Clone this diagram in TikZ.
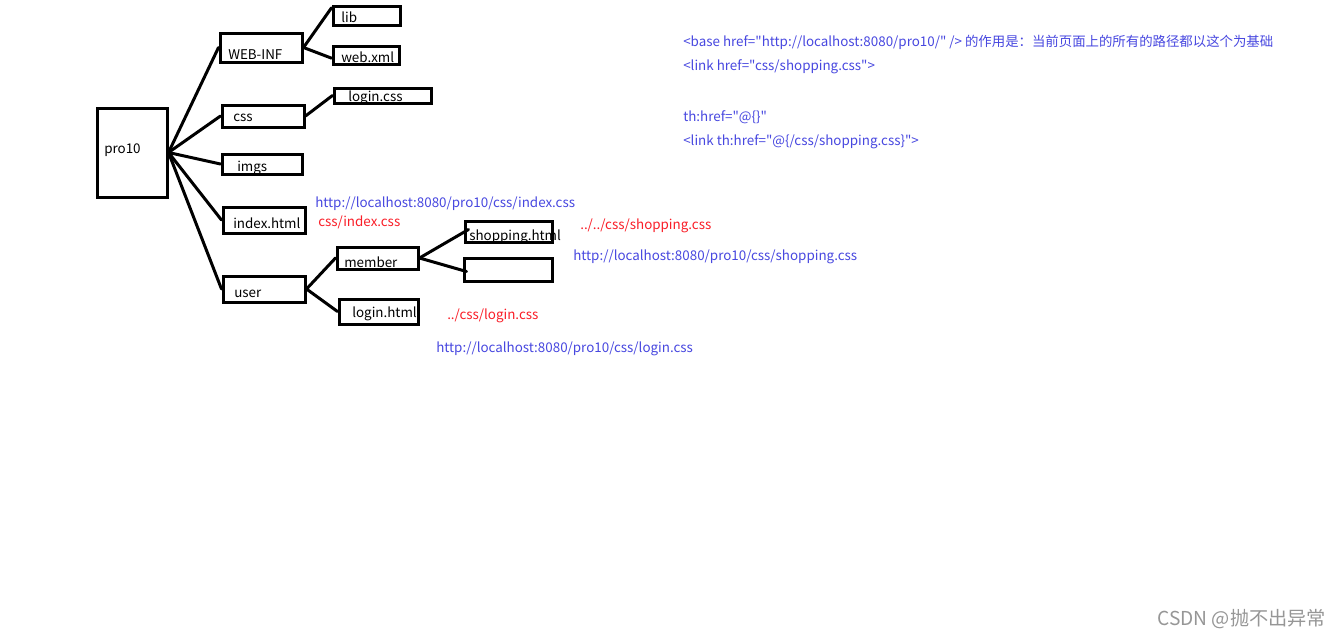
\documentclass[tikz,border=0pt]{standalone}
\usepackage{fontspec}
\newfontfamily\myfont{Noto Sans CJK SC}
\usetikzlibrary{calc}
\definecolor{urlblue}{RGB}{72,72,224}
\definecolor{relred}{RGB}{250,30,40}
\definecolor{wmgray}{RGB}{150,150,150}
\tikzset{
  box/.style={draw=black, line width=2.25pt, inner sep=0pt, fill=none},
  lbl/.style={anchor=west, inner sep=0pt, font=\myfont\fontsize{10.05pt}{11pt}\selectfont, text=black},
  blu/.style={lbl, text=urlblue},
  rd/.style={lbl, text=relred},
  conn/.style={draw=black, line width=2.25pt, line cap=round},
}
\newcommand\mybox[5]{%
  \node[box, minimum width={(#4-#2)*0.75pt}, minimum height={(#5-#3)*0.75pt}] (#1) at ({(#2+#4)/2},{(#3+#5)/2}) {};}
\begin{document}
\begin{tikzpicture}[x=0.75pt,y=-0.75pt]
\fill[white] (0,0) rectangle (1341,637);
\useasboundingbox (0,0) rectangle (1341,637);
% boxes
\mybox{pro10}{97}{108}{167}{197}
\mybox{webinf}{220}{33}{302}{62}
\mybox{lib}{333}{6}{400}{25}
\mybox{webxml}{333}{46}{399}{64}
\mybox{css}{222}{105}{304}{127}
\mybox{logincss}{334}{88}{431}{103}
\mybox{imgs}{222}{154}{302}{174}
\mybox{index}{223}{207}{305}{233}
\mybox{user}{223}{276}{305}{302}
\mybox{member}{337}{247}{418}{269}
\mybox{shop}{465}{221}{552}{242}
\mybox{empty}{464}{258}{552}{281}
\mybox{loginhtml}{339}{299}{418}{324}
% labels
\node[lbl] (tpro10) at (104,150) {pro10};
\node[lbl] (twebinf) at (228,55) {WEB-INF};
\node[lbl] (tlib) at (341,17) {lib};
\node[lbl] (twebxml) at (341,57) {web.xml};
\node[lbl] (tcss) at (233,118) {css};
\node[lbl] (tlogincss) at (348,98) {login.css};
\node[lbl] (timgs) at (237,168) {imgs};
\node[lbl] (tindex) at (233,223) {index.html};
\node[lbl] (tuser) at (234,294) {user};
\node[lbl] (tmember) at (344,262) {member};
\node[lbl] (tshop) at (469,237) {shopping.html};
\node[lbl] (tloginhtml) at (352,314) {login.html};
% connectors
\coordinate (hub) at (pro10.east);
\draw[conn] (hub) -- (webinf.west);
\draw[conn] (hub) -- (css.west);
\draw[conn] (hub) -- (imgs.west);
\draw[conn] (hub) -- (index.west);
\draw[conn] (hub) -- (user.west);
\draw[conn] (webinf.east) -- ($(lib.north west)!0.15!(lib.south west)$);
\draw[conn] (webinf.east) -- ($(webxml.north west)!0.65!(webxml.south west)$);
\draw[conn] (css.east) -- (logincss.west);
\draw[conn] (user.east) -- (member.west);
\draw[conn] (user.east) -- (loginhtml.west);
\coordinate (shopend) at ($(shop.west)+(5,-2)$);
\coordinate (emptyend) at ($(empty.west)+(4,2)$);
\draw[conn] (member.east) -- (shopend);
\draw[conn] (member.east) -- (emptyend);
% annotation texts
\node[blu] (u1) at (315,204) {http://localhost:8080/pro10/css/index.css};
\node[rd] (r1) at (318,222) {css/index.css};
\node[rd] (r2) at (580,226) {../../css/shopping.css};
\node[blu] (u2) at (573,257) {http://localhost:8080/pro10/css/shopping.css};
\node[rd] (r3) at (447,316) {../css/login.css};
\node[blu] (u3) at (436,349) {http://localhost:8080/pro10/css/login.css};
\node[blu] (n1) at (683,42) {<base href="http://localhost:8080/pro10/" /> 的作用是：当前页面上的所有的路径都以这个为基础};
\node[blu] (n2) at (683,67) {<link href="css/shopping.css">};
\node[blu] (n3) at (683,117) {th:href="@\{\}"};
\node[blu] (n4) at (683,142) {<link th:href="@\{/css/shopping.css\}">};
\node[anchor=west, inner sep=0pt, text=wmgray, font=\myfont\fontsize{14.4pt}{16pt}\selectfont] (wm) at (1157,619) {CSDN @抛不出异常};
\end{tikzpicture}
\end{document}
